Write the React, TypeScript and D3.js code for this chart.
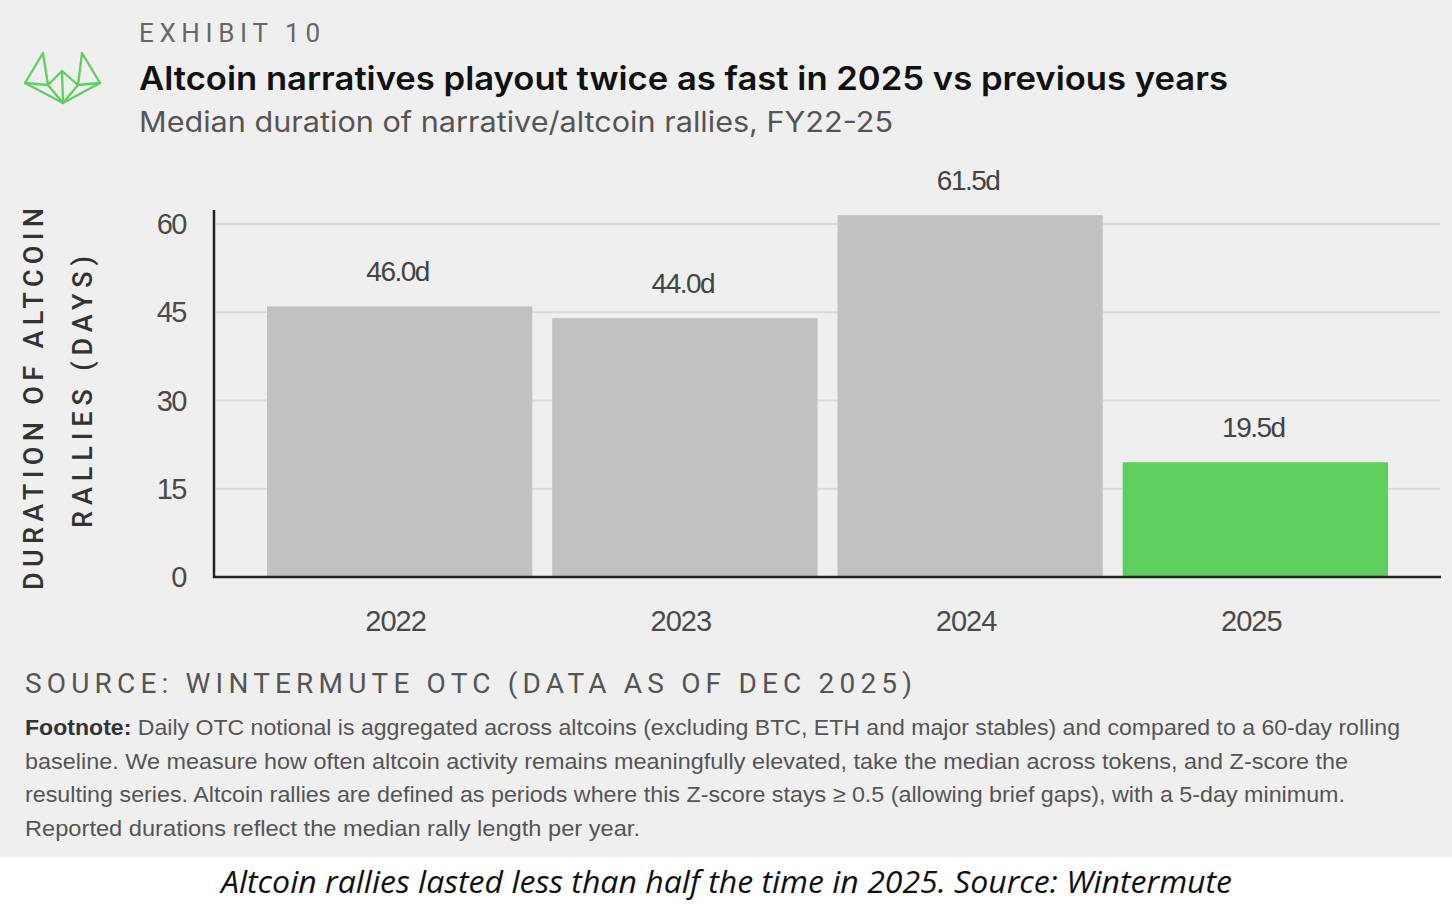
import React, { useRef, useEffect } from "react";
import * as d3 from "d3";

const years = ["2022", "2023", "2024", "2025"];
const durations = [46.0, 44.0, 61.5, 19.5];
const barColors = ["#c0c1c0", "#c0c1c0", "#c0c1c0", "#5dcf5d"];
const yTicks = [0, 15, 30, 45, 60];

const exhibit = "EXHIBIT 10";
const title = "Altcoin narratives playout twice as fast in 2025 vs previous years";
const subtitle = "Median duration of narrative/altcoin rallies, FY22-25";
const yTitle = ["DURATION OF ALTCOIN", "RALLIES (DAYS)"];
const source = "SOURCE: WINTERMUTE OTC (DATA AS OF DEC 2025)";
const footnoteLines = [
  "Daily OTC notional is aggregated across altcoins (excluding BTC, ETH and major stables) and compared to a 60-day rolling",
  "baseline. We measure how often altcoin activity remains meaningfully elevated, take the median across tokens, and Z-score the",
  "resulting series. Altcoin rallies are defined as periods where this Z-score stays \u2265 0.5 (allowing brief gaps), with a 5-day minimum.",
  "Reported durations reflect the median rally length per year.",
];
const footnoteWidths = [1375, 1323, 1320, 615];
const caption = "Altcoin rallies lasted less than half the time in 2025. Source: Wintermute";

const W = 1452;
const H = 914;

const App: React.FC = () => {
  const svgRef = useRef<SVGSVGElement>(null);

  useEffect(() => {
    if (!svgRef.current) return;
    const svg = d3.select(svgRef.current);
    svg.selectAll("*").remove();

    // backgrounds
    svg.append("rect").attr("width", W).attr("height", H).attr("fill", "#ffffff");
    svg.append("rect").attr("width", W).attr("height", 857).attr("fill", "#efefef");

    // logo
    const logo = svg
      .append("g")
      .attr("fill", "none")
      .attr("stroke", "#5dcf5d")
      .attr("stroke-width", 2.3)
      .attr("stroke-linejoin", "round")
      .attr("stroke-linecap", "round");
    const line = d3.line();
    logo.append("path").attr("d", line([[25, 83], [43, 53], [48, 85], [62, 71], [78, 85], [82, 53], [100, 83], [63, 103], [25, 83]]));
    logo.append("path").attr("d", line([[25, 83], [48, 85], [63, 103], [78, 85], [100, 83]]));
    logo.append("path").attr("d", line([[62, 71], [63, 103]]));

    // header
    svg.append("text").attr("x", 139).attr("y", 42)
      .attr("font-family", "Roboto, sans-serif").attr("font-size", 26)
      .attr("fill", "#666").attr("textLength", 181).attr("lengthAdjust", "spacing")
      .text(exhibit);
    svg.append("text").attr("x", 139).attr("y", 90)
      .attr("font-family", "Inter, sans-serif").attr("font-size", 32).attr("font-weight", 600)
      .attr("fill", "#111").attr("textLength", 1089).attr("lengthAdjust", "spacingAndGlyphs")
      .text(title);
    svg.append("text").attr("x", 139).attr("y", 132)
      .attr("font-family", "Inter, sans-serif").attr("font-size", 28)
      .attr("fill", "#555").attr("textLength", 754).attr("lengthAdjust", "spacingAndGlyphs")
      .text(subtitle);

    // scales
    const x = d3.scaleBand().domain(years).range([257, 1398]).paddingInner(0.07).paddingOuter(0.035);
    const y = d3.scaleLinear().domain([0, 60]).range([577, 224]);

    // gridlines
    svg.append("g").selectAll("line").data(yTicks.filter((t) => t > 0)).join("line")
      .attr("x1", 216).attr("x2", 1440)
      .attr("y1", (d) => y(d)).attr("y2", (d) => y(d))
      .attr("stroke", "#dadada").attr("stroke-width", 2);

    // y tick labels
    svg.append("g").selectAll("text").data(yTicks).join("text")
      .attr("x", 186).attr("y", (d) => y(d) + 10)
      .attr("text-anchor", "end")
      .attr("font-family", "Liberation Sans, Arial, sans-serif").attr("font-size", 29)
      .attr("letter-spacing", -1.5)
      .attr("fill", "#4a4a4a")
      .text((d) => d);

    // bars
    svg.append("g").selectAll("rect").data(durations).join("rect")
      .attr("x", (_, i) => x(years[i])!)
      .attr("width", x.bandwidth())
      .attr("y", (d) => y(d))
      .attr("height", (d) => y(0) - y(d))
      .attr("fill", (_, i) => barColors[i]);

    // value labels
    svg.append("g").selectAll("text").data(durations).join("text")
      .attr("x", (_, i) => x(years[i])! + x.bandwidth() / 2 - 2)
      .attr("y", (d) => y(d) - 25)
      .attr("text-anchor", "middle")
      .attr("font-family", "Liberation Sans, Arial, sans-serif").attr("font-size", 28)
      .attr("letter-spacing", -1.5)
      .attr("fill", "#444")
      .text((d) => d.toFixed(1) + "d");

    // axes lines
    svg.append("line").attr("x1", 214).attr("x2", 214).attr("y1", 210).attr("y2", 578)
      .attr("stroke", "#222").attr("stroke-width", 2.5);
    svg.append("line").attr("x1", 213).attr("x2", 1441).attr("y1", 577).attr("y2", 577)
      .attr("stroke", "#222").attr("stroke-width", 2.5);

    // x labels
    svg.append("g").selectAll("text").data(years).join("text")
      .attr("x", (d) => x(d)! + x.bandwidth() / 2 - 4)
      .attr("y", 631)
      .attr("text-anchor", "middle")
      .attr("font-family", "Liberation Sans, Arial, sans-serif").attr("font-size", 29)
      .attr("letter-spacing", -1)
      .attr("fill", "#4a4a4a")
      .text((d) => d);

    // y title
    const yt = svg.append("g").attr("font-family", "Roboto, sans-serif").attr("font-size", 27)
      .attr("font-weight", 500).attr("fill", "#333").attr("text-anchor", "middle");
    yt.append("text").attr("transform", "translate(43,399) rotate(-90)")
      .attr("textLength", 382).attr("lengthAdjust", "spacing").text(yTitle[0]);
    yt.append("text").attr("transform", "translate(92,392) rotate(-90)")
      .attr("textLength", 272).attr("lengthAdjust", "spacing").text(yTitle[1]);

    // source
    svg.append("text").attr("x", 25).attr("y", 693)
      .attr("font-family", "Roboto, sans-serif").attr("font-size", 28)
      .attr("fill", "#555").attr("textLength", 887).attr("lengthAdjust", "spacing")
      .text(source);

    // footnote
    const fn = svg.append("g").attr("font-family", "Liberation Sans, Arial, sans-serif")
      .attr("font-size", 22.5).attr("fill", "#555");
    footnoteLines.forEach((l, i) => {
      const t = fn.append("text").attr("x", 25).attr("y", 735 + i * 33.5)
        .attr("textLength", footnoteWidths[i]).attr("lengthAdjust", "spacingAndGlyphs");
      if (i === 0) {
        t.append("tspan").attr("font-weight", 700).attr("fill", "#333").text("Footnote: ");
      }
      t.append("tspan").text(l);
    });

    // caption
    svg.append("text").attr("x", 221).attr("y", 893)
      .attr("font-family", "Open Sans, sans-serif").attr("font-style", "italic").attr("font-size", 31)
      .attr("fill", "#111").attr("textLength", 1011).attr("lengthAdjust", "spacingAndGlyphs")
      .text(caption);
  }, []);

  return (
    <svg
      ref={svgRef}
      width={W}
      height={H}
      style={{ position: "absolute", left: 0, top: 0 }}
    ></svg>
  );
};

export default App;
